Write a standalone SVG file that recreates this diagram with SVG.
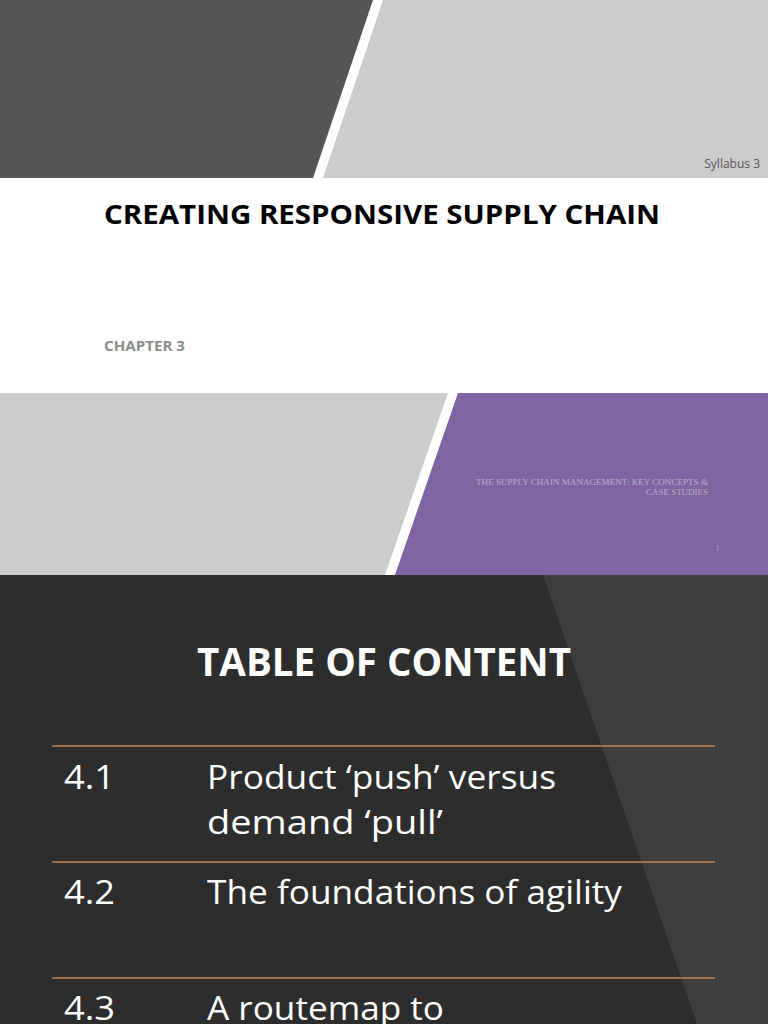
<svg xmlns="http://www.w3.org/2000/svg" width="768" height="1024" viewBox="0 0 768 1024">
<style>
.t{font-family:"Open Sans","Liberation Sans",sans-serif;fill:#fff}
.h{font-family:"Open Sans","Liberation Sans",sans-serif;font-weight:bold}
.ln{stroke:#c58450;stroke-width:1.5}
</style>
<rect width="768" height="1024" fill="#fff"/>
<polygon points="0,0 373,0 313,178 0,178" fill="#555555"/>
<polygon points="383,0 768,0 768,178 323,178" fill="#cccccc"/>
<text x="760" y="168" text-anchor="end" font-family="Open Sans, Liberation Sans, sans-serif" font-size="12" fill="#555">Syllabus 3</text>
<text x="104" y="224" class="h" font-size="27" fill="#000" textLength="556" lengthAdjust="spacingAndGlyphs">CREATING RESPONSIVE SUPPLY  CHAIN</text>
<text x="104" y="351" class="h" font-size="14" fill="#8c8c8c" textLength="81" lengthAdjust="spacingAndGlyphs">CHAPTER 3</text>
<polygon points="0,393 448,393 385,575 0,575" fill="#cccccc"/>
<polygon points="458,393 768,393 768,575 395,575" fill="#8064a2"/>
<text x="708" y="485" text-anchor="end" font-family="Liberation Serif, serif" font-size="8" fill="#b8b0c8" textLength="232" lengthAdjust="spacingAndGlyphs">THE SUPPLY CHAIN MANAGEMENT: KEY CONCEPTS &amp;</text>
<text x="708" y="495" text-anchor="end" font-family="Liberation Serif, serif" font-size="8" fill="#b8b0c8" textLength="62" lengthAdjust="spacingAndGlyphs">CASE STUDIES</text>
<text x="720" y="551" text-anchor="end" font-family="Liberation Serif, serif" font-size="9" fill="#a898c0">1</text>
<rect x="0" y="575" width="768" height="449" fill="#2d2d2d"/>
<polygon points="543,575 768,575 768,1024 697,1024" fill="#3e3e3e"/>
<text x="197" y="676" class="h" font-size="39" fill="#fff" textLength="374" lengthAdjust="spacingAndGlyphs">TABLE OF CONTENT</text>
<g id="connectors">
<line class="ln" x1="52" y1="746" x2="715" y2="746"/>
<line class="ln" x1="52" y1="862" x2="715" y2="862"/>
<line class="ln" x1="52" y1="978" x2="715" y2="978"/>
</g>
<g id="row1"><text x="64" y="789" class="t" font-size="33" textLength="51" lengthAdjust="spacingAndGlyphs">4.1</text>
<text x="207" y="789" class="t" font-size="33" textLength="349" lengthAdjust="spacingAndGlyphs">Product ‘push’ versus</text>
<text x="207" y="834" class="t" font-size="33" textLength="236" lengthAdjust="spacingAndGlyphs">demand ‘pull’</text></g>
<g id="row2"><text x="64" y="904" class="t" font-size="33" textLength="51" lengthAdjust="spacingAndGlyphs">4.2</text>
<text x="207" y="904" class="t" font-size="33" textLength="415" lengthAdjust="spacingAndGlyphs">The foundations of agility</text></g>
<g id="row3"><text x="64" y="1020" class="t" font-size="33" textLength="51" lengthAdjust="spacingAndGlyphs">4.3</text>
<text x="207" y="1020" class="t" font-size="33" textLength="237" lengthAdjust="spacingAndGlyphs">A routemap to</text></g>
</svg>
